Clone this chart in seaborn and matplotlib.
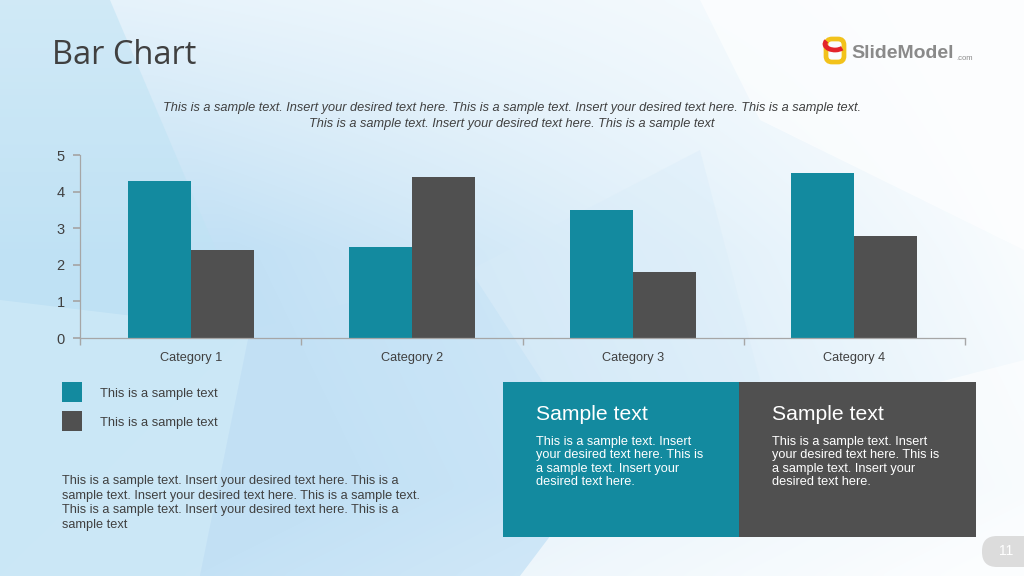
import numpy as np
import pandas as pd
import matplotlib
matplotlib.use("Agg")
import matplotlib.pyplot as plt
from matplotlib.patches import Rectangle, Polygon, FancyBboxPatch, Arc
import seaborn as sns

# ---- data ----
categories = ["Category 1", "Category 2", "Category 3", "Category 4"]
series_names = ["This is a sample text", "This is a sample text "]
series1 = [4.3, 2.5, 3.5, 4.5]
series2 = [2.4, 4.4, 1.8, 2.8]
y_ticks = [0, 1, 2, 3, 4, 5]

title = "Bar Chart"
subtitle = ("This is a sample text. Insert your desired text here. This is a sample text. Insert your desired text here. This is a sample text.\n"
            "This is a sample text. Insert your desired text here. This is a sample text")
paragraph = ("This is a sample text. Insert your desired text here. This is a\n"
             "sample text. Insert your desired text here. This is a sample text.\n"
             "This is a sample text. Insert your desired text here. This is a\n"
             "sample text")
box_title = "Sample text"
box_body = ("This is a sample text. Insert\n"
            "your desired text here. This is\n"
            "a sample text. Insert your\n"
            "desired text here.")

TEAL = "#138a9f"
DARK = "#505050"
TXT = "#404040"

sns.set_theme(style="white")
plt.rcParams["font.family"] = ["Liberation Sans", "DejaVu Sans"]

fig = plt.figure(figsize=(10.24, 5.76), dpi=100)

# ---- background ----
bg = fig.add_axes([0, 0, 1, 1], zorder=-5)
bg.set_xlim(0, 1024)
bg.set_ylim(576, 0)
bg.axis("off")
H, W = 144, 256
yy, xx = np.mgrid[0:H, 0:W]
xn = xx / (W - 1)
yn = yy / (H - 1)
w = np.clip(1.15 - 1.3 * xn + 0.35 * yn - 0.9 * np.clip(yn - 0.85, 0, 1) * 2, 0, 1)
w = w * np.clip(0.35 + yn * 1.5, 0, 1)
white = np.array([0.975, 0.988, 0.996])
blue = np.array([0.76, 0.88, 0.96])
img = white[None, None, :] * (1 - w[..., None]) + blue[None, None, :] * w[..., None]
bg.imshow(img, extent=[0, 1024, 576, 0], aspect="auto", interpolation="bicubic", zorder=0)
polys = [
    ([(0, 0), (110, 0), (250, 330), (0, 576)], "#bfe3f4", 0.55),
    ([(0, 300), (250, 330), (200, 576), (0, 576)], "#d6eef9", 0.5),
    ([(250, 330), (470, 270), (600, 470), (520, 576), (200, 576)], "#c4e2f6", 0.45),
    ([(470, 270), (700, 150), (760, 380), (600, 470)], "#d9ecf9", 0.4),
    ([(600, 470), (1024, 360), (1024, 576), (520, 576)], "#ffffff", 0.55),
    ([(700, 0), (1024, 0), (1024, 250), (760, 120)], "#ffffff", 0.6),
]
for pts, c, a in polys:
    bg.add_patch(Polygon(pts, closed=True, facecolor=c, edgecolor="none", alpha=a, zorder=1))

# title & subtitle
bg.text(52, 56, title, fontsize=23.5, color=TXT, family=["Open Sans", "DejaVu Sans"], va="center", ha="left", zorder=3)
bg.text(512, 116, subtitle, fontsize=9.2, style="italic", color=TXT, ha="center", va="center",
        linespacing=1.5, zorder=3)

# logo
bg.add_patch(FancyBboxPatch((828, 41), 14, 19, boxstyle="round,pad=2,rounding_size=6",
                            facecolor="none", edgecolor="#f2c21b", linewidth=3.4, zorder=3))
bg.add_patch(Arc((835, 44), 20, 12, theta1=30, theta2=200, color="#e3242b", linewidth=3.4, zorder=4))
bg.text(851, 53, "SlideModel", fontsize=14, fontweight="bold", color="#8a8a8a", va="center", ha="left",
        family=["Liberation Sans Narrow", "Liberation Sans"], zorder=3)
bg.text(956, 58, ".com", fontsize=5.5, color="#8a8a8a", va="center", ha="left", zorder=3)

# legend squares (series markers)
for i, (name, col) in enumerate(zip(series_names, [TEAL, DARK])):
    y0 = 382 + i * 29
    bg.add_patch(Rectangle((62, y0), 20, 20, facecolor=col, edgecolor="none", zorder=3))
    bg.text(100, y0 + 12, name.strip(), fontsize=9.3, color=TXT, va="center", ha="left", zorder=3)

bg.text(62, 503, paragraph, fontsize=9.15, color=TXT, va="center", ha="left", linespacing=1.28, zorder=3)

# info boxes
for x0, col in [(503, TEAL), (739, DARK)]:
    bg.add_patch(Rectangle((x0, 382), 236 if col == TEAL else 237, 155, facecolor=col, edgecolor="none", zorder=3))
    bg.text(x0 + 33, 415, box_title, fontsize=15.2, color="white", va="center", ha="left", zorder=4)
    bg.text(x0 + 33, 462, box_body, fontsize=9.2, color="white", va="center", ha="left",
            linespacing=1.14, zorder=4)

# page number
bg.add_patch(FancyBboxPatch((982, 536), 56, 31, boxstyle="round,pad=0,rounding_size=15",
                            facecolor="#dcdcdc", edgecolor="none", zorder=3))
bg.text(1006, 551, "11", fontsize=10, color="white", va="center", ha="center", zorder=4)

# ---- main chart ----
ax = fig.add_axes([80 / 1024, (576 - 338) / 576, 885 / 1024, 183 / 576])
ax.patch.set_alpha(0)
df = pd.DataFrame({
    "category": categories * 2,
    "value": series1 + series2,
    "series": [series_names[0]] * 4 + [series_names[1]] * 4,
})
sns.barplot(data=df, x="category", y="value", hue="series", palette=[TEAL, DARK],
            width=0.57, saturation=1, ax=ax, legend=False, linewidth=0, edgecolor="none")
ax.set_xlim(-0.5, len(categories) - 0.5)
ax.set_ylim(0, 5)
ax.set_yticks(y_ticks)
ax.set_xlabel("")
ax.set_ylabel("")
for s in ["top", "right"]:
    ax.spines[s].set_visible(False)
for s in ["left", "bottom"]:
    ax.spines[s].set_color("#a6a6a6")
    ax.spines[s].set_linewidth(0.9)
ax.tick_params(axis="y", which="major", left=True, length=5, color="#a6a6a6", labelsize=10.5,
               labelcolor=TXT, pad=6)
ax.tick_params(axis="x", which="major", bottom=False, labelsize=9.2, labelcolor=TXT, pad=4)
ax.set_xticks(np.arange(-0.5, len(categories)), minor=True)
ax.tick_params(axis="x", which="minor", bottom=True, length=5, color="#a6a6a6")
ax.grid(False)

fig.savefig("out.png", dpi=100)
